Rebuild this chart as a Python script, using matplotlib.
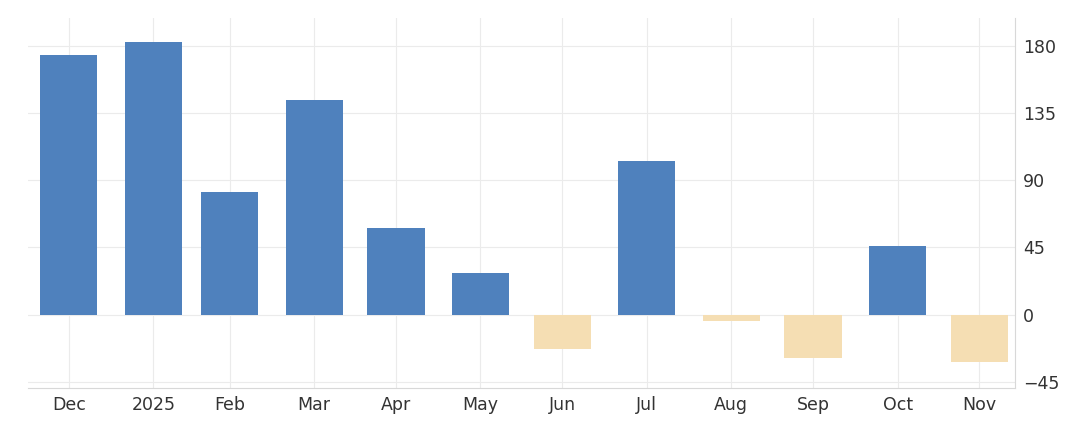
import matplotlib
matplotlib.use("Agg")
import matplotlib.pyplot as plt
import matplotlib.dates as mdates
import datetime as dt

months = ["2024-12-31","2025-01-31","2025-02-28","2025-03-31","2025-04-30","2025-05-31",
          "2025-06-30","2025-07-31","2025-08-31","2025-09-30","2025-10-31","2025-11-30"]
labels = ["Dec","2025","Feb","Mar","Apr","May","Jun","Jul","Aug","Sep","Oct","Nov"]
values = [174, 183, 82, 144, 58, 28, -23, 103, -4, -29, 46, -32]
yticks = [-45, 0, 45, 90, 135, 180]

dates = [dt.datetime.strptime(m, "%Y-%m-%d") for m in months]
colors = ["#4f81bd" if v >= 0 else "#f5deb3" for v in values]

fig = plt.figure(figsize=(10.75, 4.25), dpi=100)
ax = fig.add_axes([0.026, 0.088, 0.918, 0.87])
ax.bar(dates, values, width=21, color=colors, zorder=2)
ax.set_xticks(dates)
ax.set_xticklabels(labels)
ax.set_xlim(dates[0] - dt.timedelta(days=15), dates[-1] + dt.timedelta(days=13))
ax.set_ylim(-49, 199)
ax.set_yticks(yticks)
ax.yaxis.tick_right()
ax.grid(True, color="#ebebeb", linewidth=0.8, zorder=0)
for s in ["top", "left"]:
    ax.spines[s].set_visible(False)
ax.spines["right"].set_color("#d8d8d8")
ax.spines["bottom"].set_color("#d8d8d8")
ax.tick_params(axis="both", length=0, labelsize=12.5, colors="#333333", pad=6)
fig.savefig("out.png", dpi=100)
